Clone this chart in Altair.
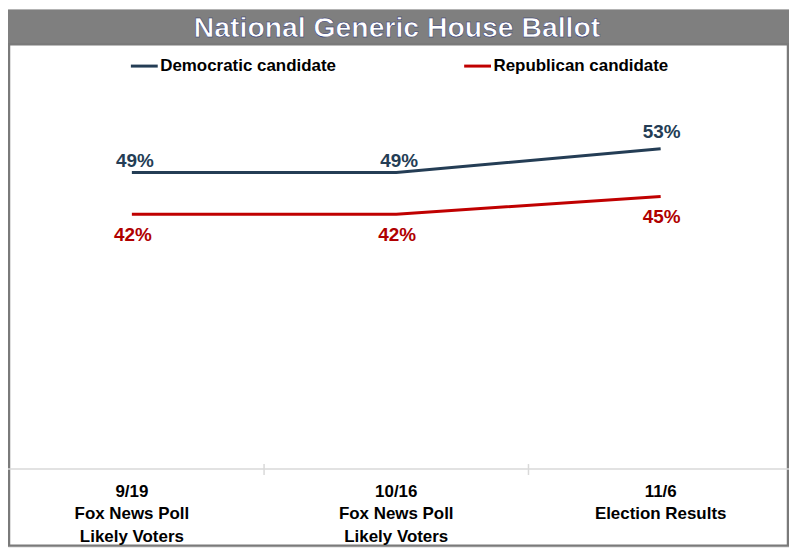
import altair as alt
import pandas as pd

# ---- data ----
period_labels = ["9/19\nFox News Poll\nLikely Voters",
                 "10/16\nFox News Poll\nLikely Voters",
                 "11/6\nElection Results"]
series_names = ["Democratic candidate", "Republican candidate"]
dem_values = [49, 49, 53]
rep_values = [42, 42, 45]
chart_title = "National Generic House Ballot"

dem_color = "#243D55"
rep_color = "#C00000"
FONT = "Liberation Sans"

rows = []
for i in range(len(period_labels)):
    rows.append({"idx": i, "series": series_names[0], "value": dem_values[i],
                 "label": f"{dem_values[i]}%", "last": i == len(period_labels) - 1})
    rows.append({"idx": i, "series": series_names[1], "value": rep_values[i],
                 "label": f"{rep_values[i]}%", "last": i == len(period_labels) - 1})
df = pd.DataFrame(rows)
cats = pd.DataFrame({"idx": list(range(len(period_labels))), "period": period_labels})
bounds = pd.DataFrame({"idx": [i + 0.5 for i in range(len(period_labels) - 1)]})
one = pd.DataFrame({"a": [0]})

W, H = 785, 540
xs = alt.Scale(domain=[-0.4685, 2.4854], nice=False, zero=False)
ys = alt.Scale(domain=[-13.667, 76.333], nice=False, zero=False)
X = alt.X("idx:Q", scale=xs, axis=None)
Y = alt.Y("value:Q", scale=ys, axis=None)

base = alt.Chart(df)

lines = base.mark_line(strokeWidth=3).encode(
    x=X, y=Y,
    color=alt.Color("series:N",
                    scale=alt.Scale(domain=series_names, range=[dem_color, rep_color]),
                    legend=alt.Legend(title=None, orient="none", direction="horizontal",
                                      legendX=122, legendY=42, symbolType="stroke",
                                      symbolSize=729, symbolStrokeWidth=3,
                                      labelFont=FONT, labelFontSize=17, labelFontWeight="bold",
                                      labelColor="#000000", labelOffset=1, columnPadding=122,
                                      labelLimit=400)),
)

lbl_style = dict(font=FONT, fontSize=19, fontWeight="bold", baseline="middle", align="center")
dem_lbl_a = base.transform_filter(
    (alt.datum.series == series_names[0]) & (alt.datum.last == False)
).mark_text(dy=-12, dx=3, color=dem_color, **lbl_style).encode(x=X, y=Y, text="label:N")
dem_lbl_b = base.transform_filter(
    (alt.datum.series == series_names[0]) & (alt.datum.last == True)
).mark_text(dy=-17, dx=1, color=dem_color, **lbl_style).encode(x=X, y=Y, text="label:N")
rep_lbl = base.transform_filter(
    alt.datum.series == series_names[1]
).mark_text(dy=21, dx=1, color="#B00000", **lbl_style).encode(x=X, y=Y, text="label:N")

axis_line = alt.Chart(one).mark_rule(color="#D9D9D9", strokeWidth=1.5).encode(
    x=alt.value(0), x2=alt.value(W), y=alt.value(462))
ticks = alt.Chart(bounds).mark_rule(color="#D9D9D9", strokeWidth=1.5).encode(
    x=X, y=alt.value(457), y2=alt.value(468))
cat_text = alt.Chart(cats).mark_text(
    font=FONT, fontSize=17, fontWeight="bold", color="#000000", baseline="top",
    align="center", lineBreak="\n", lineHeight=22.5
).encode(x=X, y=alt.value(477), text="period:N")

title_bar = alt.Chart(one).mark_rect(color="#7F7F7F").encode(
    x=alt.value(0), x2=alt.value(W), y=alt.value(0), y2=alt.value(35))
title_txt = alt.Chart(one).mark_text(
    font=FONT, fontSize=28.5, fontWeight="bold", color="#FFFFFF", baseline="middle",
    align="center", stroke="#1A2A6C", strokeWidth=0.5
).encode(x=alt.value(391), y=alt.value(19), text=alt.value(chart_title))
border = alt.Chart(one).mark_rect(fill=None, stroke="#7A7A7A", strokeWidth=2.5).encode(
    x=alt.value(1), x2=alt.value(W - 1), y=alt.value(35), y2=alt.value(H - 1))

chart = alt.layer(
    title_bar, border, axis_line, ticks, cat_text, lines, dem_lbl_a, dem_lbl_b, rep_lbl, title_txt
).properties(
    width=W, height=H, padding=0, autosize=alt.AutoSizeParams(type="none")
).configure_view(stroke=None).configure(background="#FFFFFF")

chart.save("out.html", embed_options={"renderer": "svg", "actions": False})
